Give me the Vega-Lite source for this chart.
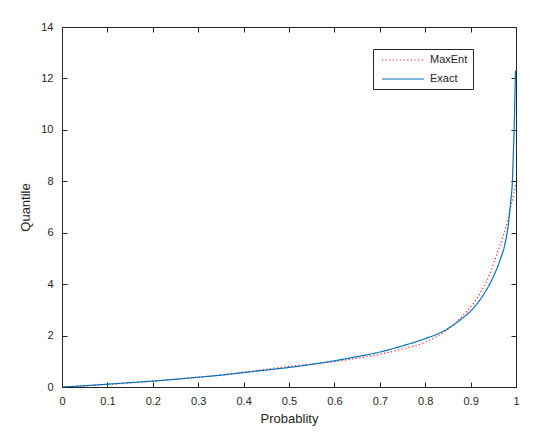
{
  "$schema": "https://vega.github.io/schema/vega-lite/v6.json",
  "width": 454,
  "height": 360,
  "autosize": {"type": "none"},
  "padding": {"left": 62, "top": 27, "right": 34, "bottom": 53},
  "background": "white",
  "config": {
    "view": {"stroke": null},
    "font": "Liberation Sans",
    "axis": {
      "grid": false,
      "domainColor": "#262626",
      "domainWidth": 1,
      "tickColor": "#262626",
      "tickWidth": 1,
      "tickSize": -5,
      "labelFlush": false,
      "labelFont": "Liberation Sans",
      "labelFontSize": 11,
      "labelColor": "#262626",
      "titleFont": "Liberation Sans",
      "titleFontSize": 13,
      "titleFontWeight": "normal",
      "titleColor": "#262626"
    }
  },
  "data": {
    "values": [
      {"p": 0, "q": 0, "series": "MaxEnt"},
      {"p": 0.05, "q": 0.04, "series": "MaxEnt"},
      {"p": 0.1, "q": 0.1, "series": "MaxEnt"},
      {"p": 0.15, "q": 0.16, "series": "MaxEnt"},
      {"p": 0.2, "q": 0.23, "series": "MaxEnt"},
      {"p": 0.25, "q": 0.3, "series": "MaxEnt"},
      {"p": 0.3, "q": 0.38, "series": "MaxEnt"},
      {"p": 0.35, "q": 0.47, "series": "MaxEnt"},
      {"p": 0.4, "q": 0.58, "series": "MaxEnt"},
      {"p": 0.45, "q": 0.69, "series": "MaxEnt"},
      {"p": 0.5, "q": 0.8, "series": "MaxEnt"},
      {"p": 0.55, "q": 0.89, "series": "MaxEnt"},
      {"p": 0.6, "q": 0.99, "series": "MaxEnt"},
      {"p": 0.65, "q": 1.12, "series": "MaxEnt"},
      {"p": 0.7, "q": 1.27, "series": "MaxEnt"},
      {"p": 0.75, "q": 1.48, "series": "MaxEnt"},
      {"p": 0.8, "q": 1.74, "series": "MaxEnt"},
      {"p": 0.85, "q": 2.25, "series": "MaxEnt"},
      {"p": 0.884, "q": 2.8, "series": "MaxEnt"},
      {"p": 0.921, "q": 3.65, "series": "MaxEnt"},
      {"p": 0.943, "q": 4.42, "series": "MaxEnt"},
      {"p": 0.961, "q": 5.33, "series": "MaxEnt"},
      {"p": 0.976, "q": 6.1, "series": "MaxEnt"},
      {"p": 0.987, "q": 6.89, "series": "MaxEnt"},
      {"p": 0.995, "q": 7.5, "series": "MaxEnt"},
      {"p": 1.0, "q": 7.95, "series": "MaxEnt"},
      {"p": 0, "q": 0, "series": "Exact"},
      {"p": 0.02, "q": 0.02, "series": "Exact"},
      {"p": 0.05, "q": 0.05, "series": "Exact"},
      {"p": 0.1, "q": 0.11, "series": "Exact"},
      {"p": 0.15, "q": 0.17, "series": "Exact"},
      {"p": 0.2, "q": 0.23, "series": "Exact"},
      {"p": 0.25, "q": 0.3, "series": "Exact"},
      {"p": 0.3, "q": 0.38, "series": "Exact"},
      {"p": 0.35, "q": 0.46, "series": "Exact"},
      {"p": 0.4, "q": 0.56, "series": "Exact"},
      {"p": 0.45, "q": 0.66, "series": "Exact"},
      {"p": 0.5, "q": 0.76, "series": "Exact"},
      {"p": 0.55, "q": 0.88, "series": "Exact"},
      {"p": 0.6, "q": 1.02, "series": "Exact"},
      {"p": 0.65, "q": 1.18, "series": "Exact"},
      {"p": 0.7, "q": 1.36, "series": "Exact"},
      {"p": 0.75, "q": 1.6, "series": "Exact"},
      {"p": 0.8, "q": 1.88, "series": "Exact"},
      {"p": 0.833, "q": 2.11, "series": "Exact"},
      {"p": 0.855, "q": 2.33, "series": "Exact"},
      {"p": 0.877, "q": 2.61, "series": "Exact"},
      {"p": 0.9, "q": 2.95, "series": "Exact"},
      {"p": 0.928, "q": 3.58, "series": "Exact"},
      {"p": 0.95, "q": 4.29, "series": "Exact"},
      {"p": 0.965, "q": 4.94, "series": "Exact"},
      {"p": 0.976, "q": 5.59, "series": "Exact"},
      {"p": 0.983, "q": 6.3, "series": "Exact"},
      {"p": 0.988, "q": 7.15, "series": "Exact"},
      {"p": 0.992, "q": 8.0, "series": "Exact"},
      {"p": 0.994, "q": 9.0, "series": "Exact"},
      {"p": 0.996, "q": 10.1, "series": "Exact"},
      {"p": 0.9975, "q": 11.2, "series": "Exact"},
      {"p": 0.999, "q": 12.3, "series": "Exact"}
    ]
  },
  "layer": [
    {
      "mark": {"type": "line", "strokeWidth": 1.2, "clip": true, "interpolate": "monotone"},
      "encoding": {
        "x": {
          "field": "p", "type": "quantitative",
          "scale": {"domain": [0, 1], "nice": false},
          "axis": {"title": "Probablity", "values": [0, 0.1, 0.2, 0.3, 0.4, 0.5, 0.6, 0.7, 0.8, 0.9, 1], "format": "~g", "labelPadding": 13, "titlePadding": 6}
        },
        "y": {
          "field": "q", "type": "quantitative",
          "scale": {"domain": [0, 14], "nice": false},
          "axis": {"title": "Quantile", "values": [0, 2, 4, 6, 8, 10, 12, 14], "labelPadding": 14, "titlePadding": 8}
        },
        "color": {
          "field": "series", "type": "nominal",
          "scale": {"domain": ["MaxEnt", "Exact"], "range": ["#ff2020", "#0072bd"]},
          "legend": {
            "title": null,
            "orient": "none",
            "legendX": 311,
            "legendY": 22,
            "strokeColor": "#262626",
            "fillColor": "white",
            "padding": 5,
            "symbolType": "M-0.4,0H8",
            "symbolSize": 100,
            "symbolStrokeWidth": 1.2,
            "labelOffset": 40,
            "labelExpr": "datum.label + '   '",
            "labelFont": "Liberation Sans",
            "labelFontSize": 11,
            "labelColor": "#262626",
            "rowPadding": 8
          }
        },
        "strokeDash": {
          "field": "series", "type": "nominal",
          "scale": {"domain": ["MaxEnt", "Exact"], "range": [[1.2, 2.4], [1, 0]]},
          "legend": null
        }
      }
    },
    {
      "mark": {"type": "line", "opacity": 0},
      "encoding": {
        "x": {"field": "p", "type": "quantitative", "axis": {"orient": "top", "title": null, "labels": false, "values": [0, 0.1, 0.2, 0.3, 0.4, 0.5, 0.6, 0.7, 0.8, 0.9, 1]}},
        "y": {"field": "q", "type": "quantitative", "axis": {"orient": "right", "title": null, "labels": false, "values": [0, 2, 4, 6, 8, 10, 12, 14]}},
        "detail": {"field": "series", "type": "nominal"}
      }
    }
  ],
  "resolve": {"axis": {"x": "independent", "y": "independent"}}
}
